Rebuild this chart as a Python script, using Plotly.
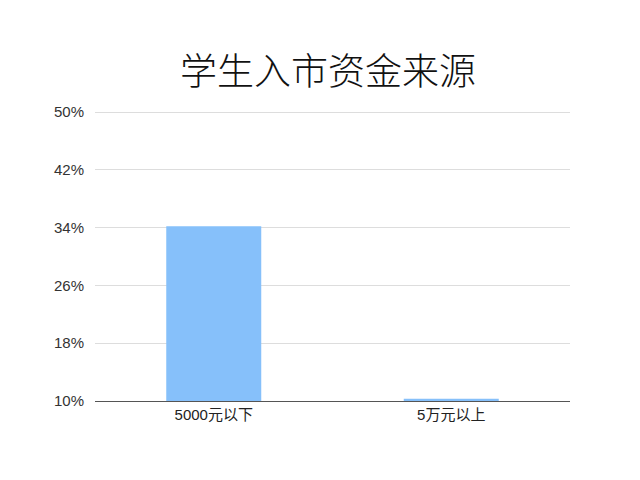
import plotly.graph_objects as go

categories = ['5000元以下', '5万元以上']
values = [34.2, 10.3]
tick_vals = [10, 18, 26, 34, 42, 50]
tick_text = ['10%', '18%', '26%', '34%', '42%', '50%']

fig = go.Figure(
    data=[go.Bar(
        x=categories,
        y=values,
        marker=dict(color='#86c0fa', line=dict(width=0)),
    )]
)

fig.update_layout(
    width=640,
    height=480,
    margin=dict(l=87, r=78, t=102, b=87),
    paper_bgcolor='white',
    plot_bgcolor='white',
    bargap=0.6,
    showlegend=False,
    font=dict(family='Liberation Sans, Noto Sans CJK SC, sans-serif', color='#222222'),
    title=dict(
        text='学生入市资金来源',
        x=0.5,
        xanchor='center',
        y=0.867,
        yanchor='middle',
        font=dict(family='Noto Sans CJK SC', size=37, color='#111111', weight=300),
    ),
)
fig.update_yaxes(
    range=[10, 50.3],
    tickvals=tick_vals,
    ticktext=tick_text,
    showgrid=True,
    gridcolor='#dddddd',
    zeroline=False,
    tickfont=dict(size=15, color='#333333'),
    ticks='',
    ticklabelstandoff=10,
)
fig.update_xaxes(
    showline=True,
    linecolor='#555555',
    linewidth=1,
    tickfont=dict(size=15, color='#222222'),
    ticks='',
    ticklabelstandoff=0,
)

fig.write_html('out.html')
